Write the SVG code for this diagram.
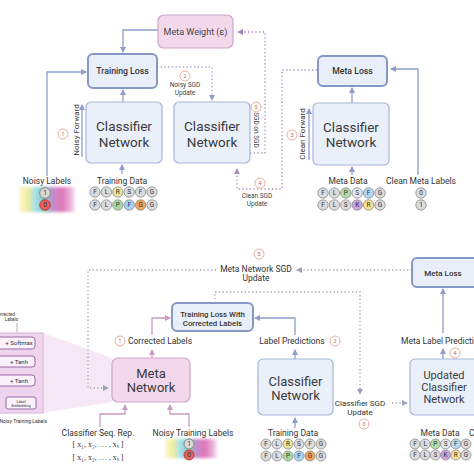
<svg xmlns="http://www.w3.org/2000/svg" width="474" height="474" viewBox="0 0 474 474">
<style>
text{font-family:Roboto,"Liberation Sans",Arial,sans-serif;fill:#333}
.box{fill:#eaf0fa;stroke:#a7b5d8;stroke-width:1.2}
.loss{fill:#e9eff9;stroke:#8797c6;stroke-width:2}
.pink{fill:#f3d8ec;stroke:#cfa6c8;stroke-width:1.2}
.big{font-size:13.5px;text-anchor:middle;fill:#3a3a3a}
.lbl{font-size:8.5px;text-anchor:middle}
.sm{font-size:6.5px;text-anchor:middle;fill:#444}
.ln{fill:none;stroke:#8f9dcb;stroke-width:1.3}
.lp{fill:none;stroke:#c99bc2;stroke-width:1.3}
.dt{fill:none;stroke:#9aa4cc;stroke-width:1.3;stroke-dasharray:1.3 2.4}
.dp{fill:none;stroke:#a88cc0;stroke-width:1.3;stroke-dasharray:1.3 2.4}
.dg{fill:none;stroke:#a2a4b4;stroke-width:1.3;stroke-dasharray:1.3 2.4}
.nc{fill:#fff;stroke:#e39a86;stroke-width:.8}
.nt{font-size:6px;text-anchor:middle;fill:#cf6a50}
.dc{stroke:#8a8a8a;stroke-width:.8}
.dl{font-size:6.5px;text-anchor:middle;fill:#333}
.ib{fill:#faf1fa;stroke:#9a68a8;stroke-width:1}
.it{font-size:6px;text-anchor:middle;fill:#333}
</style>
<defs>
<marker id="ab" markerWidth="7" markerHeight="7" refX="5" refY="3" orient="auto" markerUnits="userSpaceOnUse"><path d="M0,0 L6,3 L0,6 z" fill="#8f9dcb"/></marker>
<marker id="ap" markerWidth="7" markerHeight="7" refX="5" refY="3" orient="auto" markerUnits="userSpaceOnUse"><path d="M0,0 L6,3 L0,6 z" fill="#a88cc0"/></marker>
<marker id="ak" markerWidth="7" markerHeight="7" refX="5" refY="3" orient="auto" markerUnits="userSpaceOnUse"><path d="M0,0 L6,3 L0,6 z" fill="#c99bc2"/></marker>
<marker id="ag" markerWidth="7" markerHeight="7" refX="5" refY="3" orient="auto" markerUnits="userSpaceOnUse"><path d="M0,0 L6,3 L0,6 z" fill="#9ea3b8"/></marker>
<linearGradient id="strip" x1="0" x2="1" y1="0" y2="0">
<stop offset="0" stop-color="#fbf8d8"/><stop offset="0.15" stop-color="#f2ee9a"/><stop offset="0.3" stop-color="#a4e0f0"/><stop offset="0.45" stop-color="#78c6b4"/><stop offset="0.6" stop-color="#c48ccc"/><stop offset="0.78" stop-color="#e078b8"/><stop offset="0.92" stop-color="#e8b4da"/><stop offset="1" stop-color="#f6e6f2"/>
</linearGradient>
<filter id="blur" x="-0.2" y="-0.2" width="1.4" height="1.4"><feGaussianBlur stdDeviation="1.6"/></filter>
</defs>
<rect width="474" height="474" fill="#fff"/>

<!-- inset trapezoid -->
<polygon points="43,333 112,358 112,402 43,413" fill="#f4e3f2" opacity="0.8"/>

<g id="connectors">
<path class="ln" d="M158,30 H123 V52" marker-end="url(#ab)"/>
<path class="ln" d="M47,176 V72 H86" marker-end="url(#ab)"/>
<path class="ln" d="M123,102 V90" marker-end="url(#ab)"/>
<path class="ln" d="M122,174 V165" marker-end="url(#ab)"/>
<path class="ln" d="M82,157 V105" marker-end="url(#ab)"/>
<path class="dt" d="M157,67 H212 V100" marker-end="url(#ab)"/>
<path class="dp" d="M250,153 H265 V32 H238" marker-end="url(#ap)"/>
<path class="dp" d="M317,70 H282 V189 H237 V169" marker-end="url(#ap)"/>
<path class="ln" d="M352,103 V88" marker-end="url(#ab)"/>
<path class="ln" d="M309,160 V109" marker-end="url(#ab)"/>
<path class="ln" d="M418,175 V69 H391" marker-end="url(#ab)"/>
<path class="ln" d="M352,175 V167" marker-end="url(#ab)"/>

<path class="dg" d="M412,270 H297" marker-end="url(#ag)"/>
<path class="dg" d="M216,270 H88 V388 H108" marker-end="url(#ag)"/>
<path class="ln" d="M443,333 V289" marker-end="url(#ab)"/>
<path class="ln" d="M443,359 V349" marker-end="url(#ab)"/>
<path class="dg" d="M215,303 V292 H360 V394" marker-end="url(#ag)"/>
<path class="dg" d="M392,403 H407" marker-end="url(#ag)"/>
<path class="lp" d="M152,335 V318 H170" marker-end="url(#ak)"/>
<path class="ln" d="M295,335 V318 H255" marker-end="url(#ab)"/>
<path class="lp" d="M152,358 V350" marker-end="url(#ak)"/>
<path class="ln" d="M295,359 V350" marker-end="url(#ab)"/>
<path class="ln" d="M295,428 V418" marker-end="url(#ab)"/>
<path class="lp" d="M189,427 V414 H170 V405" marker-end="url(#ak)"/>
<path class="lp" d="M100,427 V414 H125 V405" marker-end="url(#ak)"/>
<path fill="none" stroke="#b08ab8" stroke-width=".8" d="M17,323 V332 M17,349 V355 M17,367 V374 M17,386 V397"/>
</g>

<!-- TOP -->
<g id="meta-weight"><rect class="pink" x="158" y="15" width="75" height="33" rx="6"/><text x="195.5" y="35" style="font-size:9px;text-anchor:middle;fill:#444">Meta Weight (ε)</text></g>
<g id="training-loss"><rect class="loss" x="88" y="54" width="69" height="34" rx="5"/><text x="122.5" y="74" style="font-size:8.7px;text-anchor:middle;font-weight:500">Training Loss</text></g>
<g id="classifier-1"><rect class="box" x="86" y="102" width="76" height="61" rx="5"/><text class="big" x="124" y="131">Classifier</text><text class="big" x="124" y="147">Network</text></g>
<g id="classifier-2"><rect class="box" x="174" y="102" width="76" height="61" rx="5"/><text class="big" x="212" y="131">Classifier</text><text class="big" x="212" y="147">Network</text></g>
<g id="meta-loss-top"><rect class="loss" x="318" y="56" width="69" height="30" rx="5"/><text x="352.5" y="74" style="font-size:8.7px;text-anchor:middle;font-weight:500">Meta Loss</text></g>
<g id="classifier-3"><rect class="box" x="313" y="103" width="76" height="62" rx="5"/><text class="big" x="351" y="132">Classifier</text><text class="big" x="351" y="147">Network</text></g>

<g id="top-labels">
<text x="79" y="130" transform="rotate(-90 79 130)" style="font-size:8px;text-anchor:middle">Noisy Forward</text>
<text x="305" y="134" transform="rotate(-90 305 134)" style="font-size:8px;text-anchor:middle">Clean Forward</text>
<text x="254" y="130" transform="rotate(90 254 130)" class="sm">SGD on SGD</text>
<text class="sm" x="185" y="87">Noisy SGD</text><text class="sm" x="185" y="95">Update</text>
<text class="sm" x="257" y="198">Clean SGD</text><text class="sm" x="257" y="206">Update</text>
<g><circle class="nc" cx="63" cy="134" r="5"/><text class="nt" x="63" y="136.2">1</text></g>
<g><circle class="nc" cx="185" cy="76" r="5"/><text class="nt" x="185" y="78.2">2</text></g>
<g><circle class="nc" cx="292" cy="135" r="5"/><text class="nt" x="292" y="137.2">3</text></g>
<g><circle class="nc" cx="260" cy="183" r="5"/><text class="nt" x="260" y="185.2">4</text></g>
<g><circle class="nc" cx="256" cy="107" r="5"/><text class="nt" x="256" y="109.2">5</text></g>
<text class="lbl" x="47" y="184">Noisy Labels</text>
<text class="lbl" x="122" y="184">Training Data</text>
<text class="lbl" x="348" y="184">Meta Data</text>
<text class="lbl" x="421" y="184">Clean Meta Labels</text>
</g>

<g id="noisy-labels-img">
<rect x="19" y="187" width="56" height="25" fill="url(#strip)" filter="url(#blur)"/>
<circle cx="45" cy="193" r="5.3" fill="#d9d9d9" stroke="#777" stroke-width=".8"/><text class="dl" x="45" y="195.3">1</text>
<circle cx="45" cy="205" r="5.3" fill="#e8605c" stroke="#b03434" stroke-width=".8"/><text class="dl" x="45" y="207.3">0</text>
</g>

<g id="training-data-top">
<g fill="#dcdcdc">
<circle class="dc" cx="95" cy="192" r="5.2"/><circle class="dc" cx="106.4" cy="192" r="5.2"/><circle class="dc" cx="117.8" cy="192" r="5.2" fill="#e2e89a"/><circle class="dc" cx="129.2" cy="192" r="5.2"/><circle class="dc" cx="140.6" cy="192" r="5.2"/><circle class="dc" cx="152" cy="192" r="5.2"/>
<circle class="dc" cx="95" cy="205" r="5.2"/><circle class="dc" cx="106.4" cy="205" r="5.2"/><circle class="dc" cx="117.8" cy="205" r="5.2" fill="#a9d9a0"/><circle class="dc" cx="129.2" cy="205" r="5.2" fill="#a8d2f2"/><circle class="dc" cx="140.6" cy="205" r="5.2" fill="#f2a45e"/><circle class="dc" cx="152" cy="205" r="5.2"/>
</g>
<text class="dl" x="95" y="194.3">F</text><text class="dl" x="106.4" y="194.3">L</text><text class="dl" x="117.8" y="194.3">R</text><text class="dl" x="129.2" y="194.3">S</text><text class="dl" x="140.6" y="194.3">F</text><text class="dl" x="152" y="194.3">G</text>
<text class="dl" x="95" y="207.3">F</text><text class="dl" x="106.4" y="207.3">L</text><text class="dl" x="117.8" y="207.3">P</text><text class="dl" x="129.2" y="207.3">F</text><text class="dl" x="140.6" y="207.3">G</text><text class="dl" x="152" y="207.3">G</text>
</g>

<g id="meta-data-top">
<g fill="#dcdcdc">
<circle class="dc" cx="323" cy="193" r="5.2"/><circle class="dc" cx="334.4" cy="193" r="5.2"/><circle class="dc" cx="345.8" cy="193" r="5.2" fill="#b2dca8"/><circle class="dc" cx="357.2" cy="193" r="5.2" fill="#e4e8ee"/><circle class="dc" cx="368.6" cy="193" r="5.2" fill="#b4d8f4"/><circle class="dc" cx="380" cy="193" r="5.2"/>
<circle class="dc" cx="323" cy="205" r="5.2"/><circle class="dc" cx="334.4" cy="205" r="5.2"/><circle class="dc" cx="345.8" cy="205" r="5.2"/><circle class="dc" cx="357.2" cy="205" r="5.2" fill="#cda4dc"/><circle class="dc" cx="368.6" cy="205" r="5.2" fill="#f7e296"/><circle class="dc" cx="380" cy="205" r="5.2"/>
<circle class="dc" cx="421" cy="193" r="5.2"/><circle class="dc" cx="421" cy="205" r="5.2"/>
</g>
<text class="dl" x="323" y="195.3">F</text><text class="dl" x="334.4" y="195.3">L</text><text class="dl" x="345.8" y="195.3">P</text><text class="dl" x="357.2" y="195.3">S</text><text class="dl" x="368.6" y="195.3">F</text><text class="dl" x="380" y="195.3">G</text>
<text class="dl" x="323" y="207.3">F</text><text class="dl" x="334.4" y="207.3">L</text><text class="dl" x="345.8" y="207.3">S</text><text class="dl" x="357.2" y="207.3">K</text><text class="dl" x="368.6" y="207.3">R</text><text class="dl" x="380" y="207.3">G</text>
<text class="dl" x="421" y="195.3">0</text><text class="dl" x="421" y="207.3">1</text>
</g>

<!-- BOTTOM -->
<g id="inset">
<rect x="-6" y="333" width="49" height="80" fill="#efd4ee" stroke="#d8b2d8" stroke-width="1"/>
<rect class="ib" x="-6" y="337" width="41" height="12" rx="3"/><text class="it" x="19" y="345.2">+ Softmax</text>
<rect class="ib" x="-6" y="356" width="41" height="11" rx="3"/><text class="it" x="19" y="363.8">+ Tanh</text>
<rect class="ib" x="-6" y="375" width="41" height="11" rx="3"/><text class="it" x="19" y="382.8">+ Tanh</text>
<rect class="ib" x="6" y="397" width="30" height="12" rx="2"/><text x="21" y="402.5" style="font-size:3.8px;text-anchor:middle">Label</text><text x="21" y="407" style="font-size:3.8px;text-anchor:middle">Embedding</text>
<text x="15" y="316" style="font-size:4.5px;text-anchor:end">Corrected</text>
<text x="18" y="321" style="font-size:4.5px;text-anchor:end">Labels</text>
<text x="47" y="423" style="font-size:5px;text-anchor:end">Noisy Training Labels</text>
</g>

<g id="meta-loss-bottom"><rect class="loss" x="412" y="258" width="72" height="29" rx="5"/><text x="443" y="276" style="font-size:8px;text-anchor:middle;font-weight:500">Meta Loss</text></g>
<g id="training-loss-corrected"><rect class="loss" x="172" y="303" width="81" height="28" rx="5"/><text x="212.5" y="316.5" style="font-size:7.8px;text-anchor:middle;font-weight:500">Training Loss With</text><text x="212.5" y="325.5" style="font-size:7.8px;text-anchor:middle;font-weight:500">Corrected Labels</text></g>
<g id="meta-network"><rect class="pink" x="112" y="358" width="78" height="44" rx="6"/><text class="big" x="151" y="378" style="font-size:13px">Meta</text><text class="big" x="151" y="392" style="font-size:13px">Network</text></g>
<g id="classifier-bottom"><rect class="box" x="258" y="359" width="75" height="56" rx="5"/><text class="big" x="295.5" y="386" style="font-size:13px">Classifier</text><text class="big" x="295.5" y="400" style="font-size:13px">Network</text></g>
<g id="updated-classifier"><rect class="box" x="410" y="359" width="75" height="56" rx="5"/><text class="big" x="444" y="379" style="font-size:11px">Updated</text><text class="big" x="444" y="391" style="font-size:11px">Classifier</text><text class="big" x="444" y="403" style="font-size:11px">Network</text></g>

<g id="bottom-labels">
<text class="lbl" x="256" y="272">Meta Network SGD</text><text class="lbl" x="256" y="281">Update</text>
<text class="lbl" x="160" y="344">Corrected Labels</text>
<text class="lbl" x="292" y="344">Label Predictions</text>
<text x="401" y="344" style="font-size:8.5px">Meta Label Predictions</text>
<text class="lbl" x="360" y="406" style="font-size:8px">Classifier SGD</text><text class="lbl" x="360" y="415" style="font-size:8px">Update</text>
<text class="lbl" x="98" y="436">Classifier Seq. Rep.</text>
<text class="lbl" x="193" y="436">Noisy Training Labels</text>
<text class="lbl" x="293" y="436">Training Data</text>
<text class="lbl" x="440" y="436">Meta Data</text>
<text x="469" y="436" style="font-size:8.5px">Clean Meta Labels</text>
<text x="98" y="447" style="font-family:'Liberation Serif',serif;font-size:8px;text-anchor:middle">[ x₁, x₂, … , xₜ ]</text>
<text x="98" y="460" style="font-family:'Liberation Serif',serif;font-size:8px;text-anchor:middle">[ x₁, x₂, … , xₜ ]</text>
<g><circle class="nc" cx="120" cy="341" r="5"/><text class="nt" x="120" y="343.2">1</text></g>
<g><circle class="nc" cx="335" cy="341" r="5"/><text class="nt" x="335" y="343.2">2</text></g>
<g><circle class="nc" cx="364" cy="424" r="5"/><text class="nt" x="364" y="426.2">3</text></g>
<g><circle class="nc" cx="455" cy="353" r="5"/><text class="nt" x="455" y="355.2">4</text></g>
<g><circle class="nc" cx="259" cy="254" r="5"/><text class="nt" x="259" y="256.2">5</text></g>
</g>

<g id="noisy-training-img">
<rect x="165" y="439" width="52" height="19" fill="url(#strip)" filter="url(#blur)"/>
<circle cx="189" cy="444" r="5" fill="#d9d9d9" stroke="#777" stroke-width=".8"/><text class="dl" x="189" y="446.3">1</text>
<circle cx="189" cy="455" r="5" fill="#e8605c" stroke="#b03434" stroke-width=".8"/><text class="dl" x="189" y="457.3">0</text>
</g>

<g id="training-data-bottom">
<g fill="#dcdcdc">
<circle class="dc" cx="266" cy="444" r="5"/><circle class="dc" cx="277" cy="444" r="5"/><circle class="dc" cx="288" cy="444" r="5" fill="#e2e89a"/><circle class="dc" cx="299" cy="444" r="5"/><circle class="dc" cx="310" cy="444" r="5"/><circle class="dc" cx="321" cy="444" r="5"/>
<circle class="dc" cx="266" cy="456" r="5"/><circle class="dc" cx="277" cy="456" r="5"/><circle class="dc" cx="288" cy="456" r="5" fill="#a9d9a0"/><circle class="dc" cx="299" cy="456" r="5" fill="#a8d2f2"/><circle class="dc" cx="310" cy="456" r="5" fill="#f2a45e"/><circle class="dc" cx="321" cy="456" r="5"/>
</g>
<text class="dl" x="266" y="446.3">F</text><text class="dl" x="277" y="446.3">L</text><text class="dl" x="288" y="446.3">R</text><text class="dl" x="299" y="446.3">S</text><text class="dl" x="310" y="446.3">F</text><text class="dl" x="321" y="446.3">G</text>
<text class="dl" x="266" y="458.3">F</text><text class="dl" x="277" y="458.3">L</text><text class="dl" x="288" y="458.3">P</text><text class="dl" x="299" y="458.3">F</text><text class="dl" x="310" y="458.3">G</text><text class="dl" x="321" y="458.3">G</text>
</g>

<g id="meta-data-bottom">
<g fill="#dcdcdc">
<circle class="dc" cx="415" cy="444" r="5"/><circle class="dc" cx="425.2" cy="444" r="5"/><circle class="dc" cx="435.4" cy="444" r="5" fill="#b2dca8"/><circle class="dc" cx="445.6" cy="444" r="5" fill="#e4e8ee"/><circle class="dc" cx="455.8" cy="444" r="5" fill="#b4d8f4"/><circle class="dc" cx="466" cy="444" r="5"/>
<circle class="dc" cx="415" cy="455" r="5"/><circle class="dc" cx="425.2" cy="455" r="5"/><circle class="dc" cx="435.4" cy="455" r="5"/><circle class="dc" cx="445.6" cy="455" r="5" fill="#cda4dc"/><circle class="dc" cx="455.8" cy="455" r="5" fill="#f7e296"/><circle class="dc" cx="466" cy="455" r="5"/>
</g>
<text class="dl" x="415" y="446.3">F</text><text class="dl" x="425.2" y="446.3">L</text><text class="dl" x="435.4" y="446.3">P</text><text class="dl" x="445.6" y="446.3">S</text><text class="dl" x="455.8" y="446.3">F</text><text class="dl" x="466" y="446.3">G</text>
<text class="dl" x="415" y="457.3">F</text><text class="dl" x="425.2" y="457.3">L</text><text class="dl" x="435.4" y="457.3">S</text><text class="dl" x="445.6" y="457.3">K</text><text class="dl" x="455.8" y="457.3">R</text><text class="dl" x="466" y="457.3">G</text>
</g>
</svg>
